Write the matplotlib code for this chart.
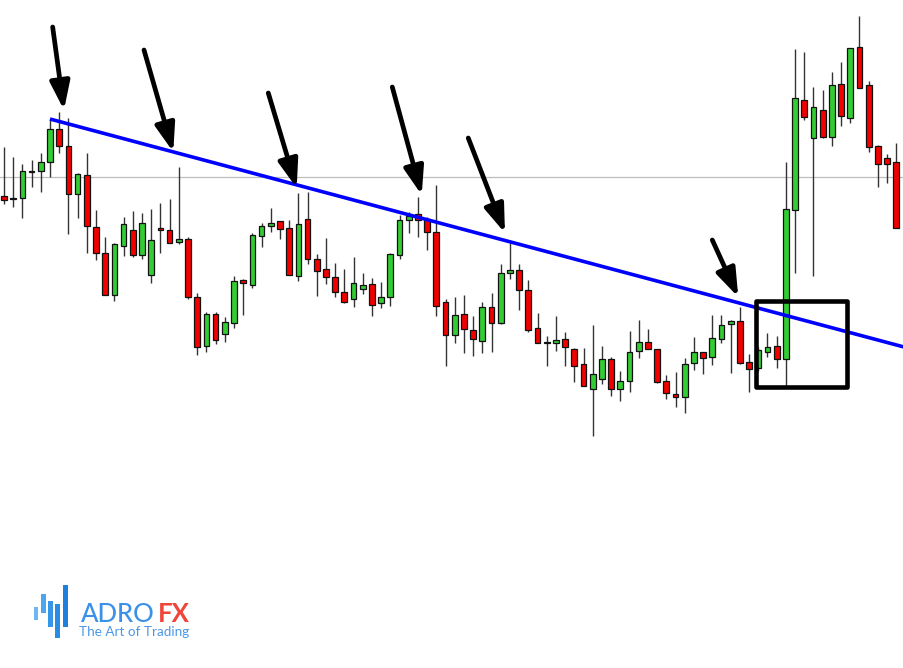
import matplotlib
matplotlib.use("Agg")
import matplotlib.pyplot as plt
from matplotlib.patches import Rectangle, FancyArrowPatch

# ---- candle data (price levels, arbitrary units) ----
opens = [472, 470, 470, 496, 497, 506, 539, 522, 474, 493, 441, 415, 373, 422, 438, 413, 393, 440, 438, 426,
         429, 371, 322, 354, 334, 345, 388, 383, 432, 442, 447, 440, 392, 449, 409, 399, 391, 376, 369, 379,
         384, 365, 371, 413, 448, 454, 449, 436, 366, 333, 354, 338, 327, 361, 345, 395, 398, 378, 340, 325,
         325, 329, 319, 304, 279, 289, 309, 279, 287, 317, 326, 319, 287, 274, 271, 305, 316, 311, 329, 344,
         347, 306, 300, 316, 322, 309, 458, 568, 530, 558, 531, 584, 550, 621, 583, 522, 510, 506]
highs = [521, 511, 504, 508, 515, 549, 556, 550, 495, 515, 458, 431, 425, 451, 457, 455, 459, 465, 469, 501,
         431, 375, 356, 356, 351, 392, 389, 435, 445, 460, 447, 448, 475, 476, 414, 430, 405, 399, 411, 395,
         390, 386, 415, 453, 456, 471, 451, 483, 369, 371, 373, 352, 366, 375, 404, 425, 404, 388, 355, 332,
         352, 336, 320, 320, 343, 322, 311, 297, 337, 348, 339, 319, 293, 296, 310, 331, 316, 353, 353, 348,
         361, 314, 321, 335, 332, 506, 619, 616, 581, 578, 596, 606, 620, 652, 587, 523, 514, 525]
lows = [464, 461, 450, 481, 476, 491, 515, 434, 450, 415, 408, 373, 367, 412, 411, 409, 385, 415, 425, 424,
        369, 313, 316, 324, 326, 340, 353, 380, 421, 436, 429, 393, 387, 404, 372, 384, 371, 365, 361, 374,
        352, 360, 362, 409, 435, 431, 418, 352, 302, 325, 315, 312, 315, 316, 344, 389, 358, 336, 325, 302,
        317, 302, 286, 282, 232, 284, 272, 267, 276, 310, 319, 285, 269, 261, 255, 298, 294, 303, 325, 295,
        304, 276, 297, 311, 300, 280, 395, 548, 392, 530, 522, 542, 545, 580, 516, 481, 485, 440]
closes = [468, 469, 497, 497, 506, 539, 522, 474, 494, 442, 415, 373, 424, 444, 413, 445, 428, 438, 425, 429,
          371, 321, 354, 328, 346, 387, 385, 433, 442, 445, 439, 393, 444, 409, 397, 391, 376, 366, 385, 383,
          363, 371, 414, 448, 452, 448, 436, 362, 333, 353, 339, 329, 361, 345, 395, 398, 378, 338, 325, 326,
          328, 321, 302, 282, 294, 309, 279, 287, 316, 326, 319, 286, 275, 271, 304, 316, 310, 330, 343, 347,
          305, 299, 318, 321, 309, 459, 570, 551, 561, 531, 583, 552, 620, 580, 521, 504, 504, 440]

# annotations (candle index, price level)
trend_start = (5.0, 549)
trend_end = (97.84, 321)
ref_level = 491
arrow_tails = [(5.29, 641), (15.22, 618), (28.73, 575), (42.21, 581), (50.47, 530), (77.0, 428)]
arrow_tips = [(6.52, 558), (18.40, 516), (31.82, 480), (45.41, 473), (54.46, 435), (79.82, 371)]
box_x = (81.75, 91.68)
box_y = (281.3, 367.3)

GREEN = "#33cc33"
RED = "#f20000"

fig = plt.figure(figsize=(9.04, 6.68), dpi=100)
ax = fig.add_axes([0, 0, 1, 1])
ax.set_xlim(-0.4348, 97.84)
ax.set_ylim(0, 668)
ax.axis("off")

ax.axhline(ref_level, color="#bdbdbd", lw=0.9, zorder=1)

n = len(opens)
for i in range(n):
    o, h, l, c = opens[i], highs[i], lows[i], closes[i]
    ax.vlines(i, l, h, color="#333333", lw=1.0, zorder=2)
    col = GREEN if c >= o else RED
    bottom = min(o, c)
    height = max(abs(c - o), 1.2)
    ax.bar(i, height, bottom=bottom, width=0.62, color=col, edgecolor="#111111",
           linewidth=0.9, zorder=3)

ax.plot([trend_start[0], trend_end[0]], [trend_start[1], trend_end[1]],
        color="#0000ff", lw=2.6, solid_capstyle="butt", zorder=4)

for (tx, ty), (hx, hy) in zip(arrow_tails, arrow_tips):
    arr = FancyArrowPatch((tx, ty), (hx, hy),
                          arrowstyle="-|>,head_length=0.85,head_width=0.3",
                          mutation_scale=20, color="black", lw=3.4,
                          shrinkA=0, shrinkB=0, capstyle="round", zorder=6)
    ax.add_patch(arr)

ax.add_patch(Rectangle((box_x[0], box_y[0]), box_x[1] - box_x[0], box_y[1] - box_y[0],
                       fill=False, edgecolor="black", lw=3.3, joinstyle="round", zorder=5))

# ---- logo (pixel coordinates overlay) ----
lax = fig.add_axes([0, 0, 1, 1], facecolor="none")
lax.set_xlim(0, 904)
lax.set_ylim(668, 0)
lax.axis("off")
bars = [(34, 606.7, 4.5, 13.3, "#6db6f2"), (40.8, 594, 5, 19, "#4ba5ef"),
        (48, 601, 4.8, 25.7, "#3596ea"), (55.2, 604, 4.8, 34, "#2a8be5"),
        (62.8, 585, 5, 41.7, "#1f7fdc")]
for x, y, w, hgt, colr in bars:
    lax.add_patch(Rectangle((x, y), w, hgt, color=colr, lw=0))
lax.text(80.5, 622, "ADRO", fontsize=18.5, family="Lato", color="#3b90e8",
         va="baseline", ha="left", fontweight="medium")
lax.text(158, 622, "FX", fontsize=18.5, family="Lato", color="#f0453a",
         va="baseline", ha="left", fontweight="bold")
lax.text(79.5, 636.5, "The Art of Trading", fontsize=9.7, family="Lato", color="#4a97e4",
         va="baseline", ha="left")

fig.savefig("out.png", dpi=100)
